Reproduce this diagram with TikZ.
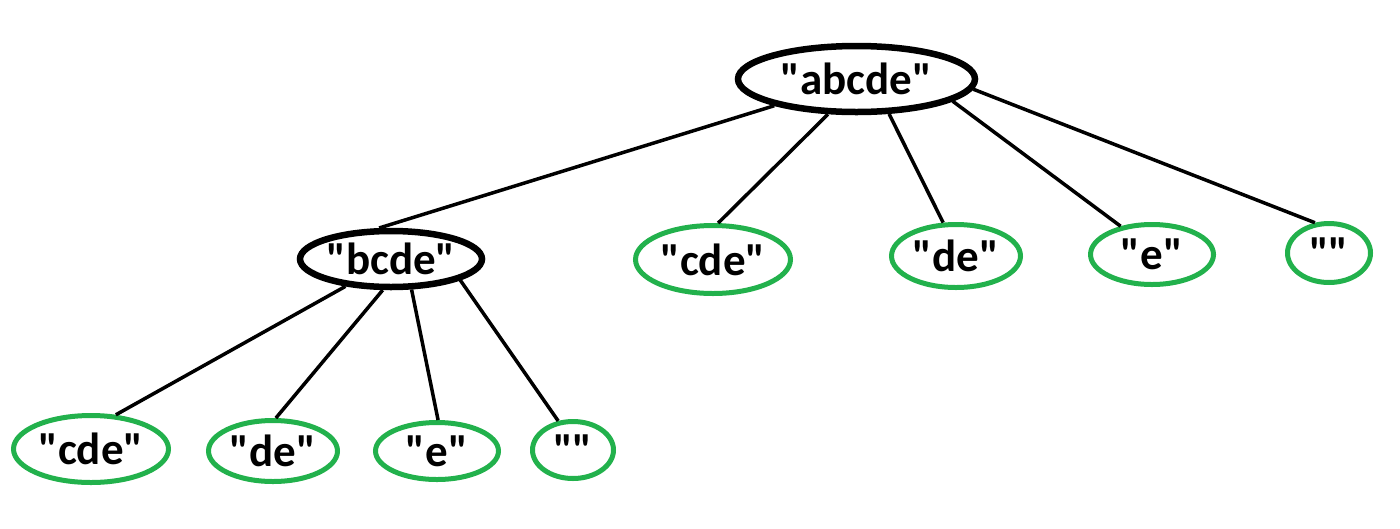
\documentclass[tikz,border=0pt]{standalone}
\usepackage{fontspec}
\setmainfont{Carlito}[Ligatures=TeXOff]
\usetikzlibrary{shapes.geometric}
\definecolor{pgreen}{HTML}{22B14C}
\begin{document}
\begin{tikzpicture}[x=1pt,y=-1pt,
  every node/.style={font=\fontsize{45}{50}\selectfont\bfseries},
  blk/.style={ellipse,draw=black,line width=6.5pt,inner xsep=-20pt,inner ysep=-15pt,fill=white},
  grn/.style={ellipse,draw=pgreen,line width=5pt,inner xsep=-20pt,inner ysep=-15pt,fill=white},
  edge/.style={draw=black,line width=3.5pt}]
\useasboundingbox (0,0) rectangle (1400,528);
\node[blk,minimum width=237pt,minimum height=66pt] (root) at (856.5,79) {"abcde"};
\node[blk,minimum width=182pt,minimum height=56pt] (bcde) at (391,259) {"bcde"};
\node[grn,minimum width=155pt,minimum height=68pt] (cdeA) at (713,259.5) {"cde"};
\node[grn,minimum width=129pt,minimum height=63pt] (deA) at (956,256) {"de"};
\node[grn,minimum width=123pt,minimum height=60pt] (eA) at (1152,254.5) {"e"};
\node[grn,minimum width=83pt,minimum height=59pt] (emA) at (1329,253) {""};
\node[grn,minimum width=155pt,minimum height=67pt] (cdeB) at (91,449) {"cde"};
\node[grn,minimum width=129pt,minimum height=61pt] (deB) at (273,451) {"de"};
\node[grn,minimum width=123pt,minimum height=57pt] (eB) at (437,451) {"e"};
\node[grn,minimum width=81pt,minimum height=57pt] (emB) at (573,450) {""};
\draw[edge] (root.198) -- (bcde.111);
\draw[edge] (root.231) -- (cdeA.82);
\draw[edge] (root.313) -- (deA.111);
\draw[edge] (root.347) -- (eA.138);
\draw[edge] (root.355) -- (emA.115);
\draw[edge] (bcde.211) -- (cdeB.54);
\draw[edge] (bcde.255) -- (deB.85);
\draw[edge] (bcde.304) -- (eB.88);
\draw[edge] (bcde.343) -- (emB.117);
\end{tikzpicture}
\end{document}
